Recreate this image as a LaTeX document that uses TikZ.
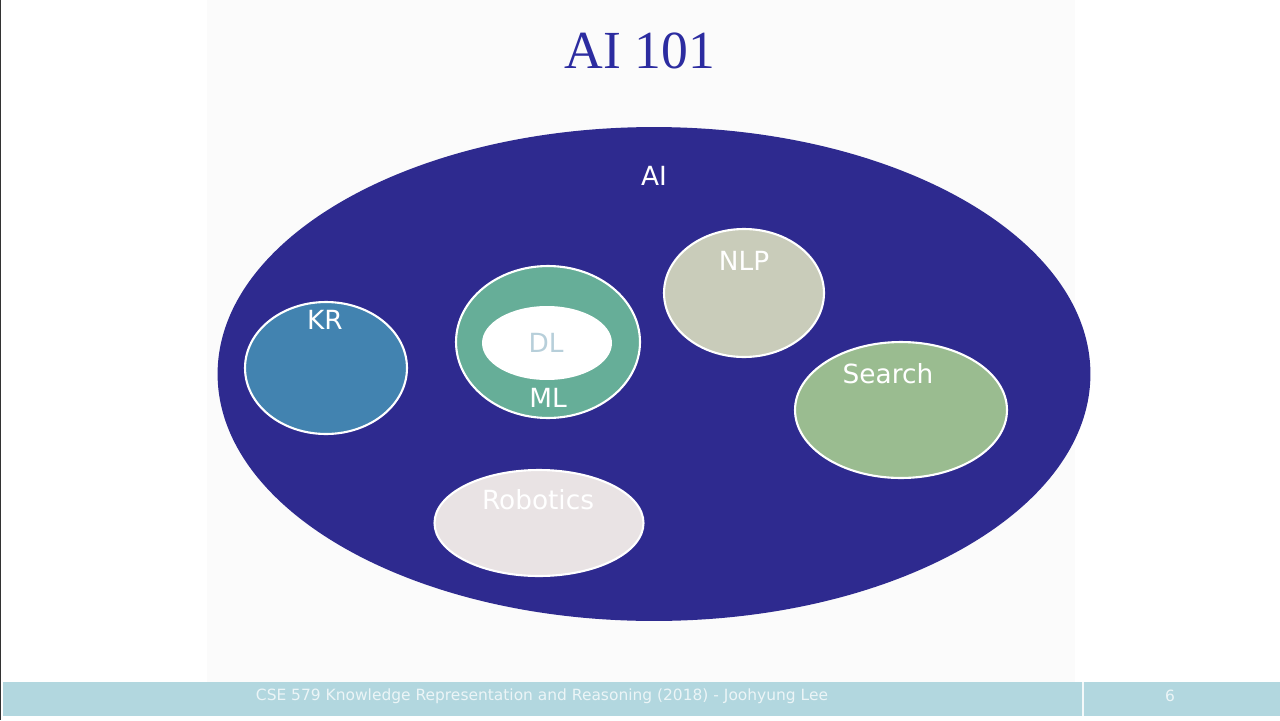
\documentclass[tikz,border=0pt]{standalone}
\usepackage{fontspec}
\setmainfont{Liberation Serif}
\newfontfamily\labelfont{DejaVu Sans}
\usetikzlibrary{shapes.geometric}

\definecolor{titleblue}{HTML}{2C2CA0}
\definecolor{aiblue}{HTML}{2E2A8F}
\definecolor{krblue}{HTML}{4283B0}
\definecolor{mlgreen}{HTML}{66AE98}
\definecolor{nlpgrey}{HTML}{C9CCBA}
\definecolor{searchgreen}{HTML}{9ABC90}
\definecolor{robopink}{HTML}{E9E3E4}
\definecolor{dltext}{HTML}{B7CFDA}
\definecolor{footbar}{HTML}{B2D7DF}

\begin{document}
\begin{tikzpicture}[
			x=0.02cm, y=-0.02cm,
			area/.style={
				ellipse, draw=white, line width=1.2pt,
				inner sep=0pt
			},
			area label/.style={font=\labelfont\fontsize{15}{15}\selectfont, text=white},
			foot text/.style={font=\labelfont\fontsize{8.8}{9}\selectfont, text=white!75!footbar}
			]
			\useasboundingbox (0,0) rectangle (1280,720);
			\fill[white] (0,0) rectangle (1280,720);
			\fill[black!1.5] (207,0) rectangle (1075,682);
			\draw[black!80, line width=0.8pt] (0.5,0) -- (0.5,720);
			
			% title
			\node[text=titleblue, font=\fontsize{30.5}{31}\selectfont] (title) at (640,51) {AI 101};
			
			% the whole field
			\node[ellipse, fill=aiblue, minimum width=17.46cm, minimum height=9.88cm, inner sep=0pt] (ai) at (654,374) {};
			\node[area label] (ailabel) at (654,176) {AI};
			
			% sub fields
			\node[area, fill=krblue, minimum width=3.24cm, minimum height=2.64cm] (kr) at (326,368) {};
			\node[area label] (krlabel) at (325,320) {KR};
			
			\node[area, fill=mlgreen, minimum width=3.68cm, minimum height=3.04cm] (ml) at (548,342) {};
			\node[ellipse, fill=white, minimum width=2.6cm, minimum height=1.48cm, inner sep=0pt] (dl) at (547,343) {};
			\node[area label, text=dltext] (dllabel) at (546,343) {DL};
			\node[area label] (mllabel) at (548,398) {ML};
			
			\node[area, fill=nlpgrey, minimum width=3.2cm, minimum height=2.56cm] (nlp) at (744,293) {};
			\node[area label] (nlplabel) at (744,261) {NLP};
			
			\node[area, fill=searchgreen, minimum width=4.24cm, minimum height=2.72cm] (search) at (901,410) {};
			\node[area label] (searchlabel) at (888,374) {Search};
			
			\node[area, fill=robopink, minimum width=4.18cm, minimum height=2.12cm] (robotics) at (539,523) {};
			\node[area label] (roboticslabel) at (538,500) {Robotics};
			
			% footer
			\fill[footbar] (3,682) rectangle (1280,716);
			\draw[white!85!footbar, line width=1pt] (1083,682) -- (1083,716);
			\node[foot text] (course) at (542,696) {CSE 579 Knowledge Representation and Reasoning (2018) - Joohyung Lee};
			\node[foot text] (page) at (1170,696) {6};
			
		\end{tikzpicture}
\end{document}
